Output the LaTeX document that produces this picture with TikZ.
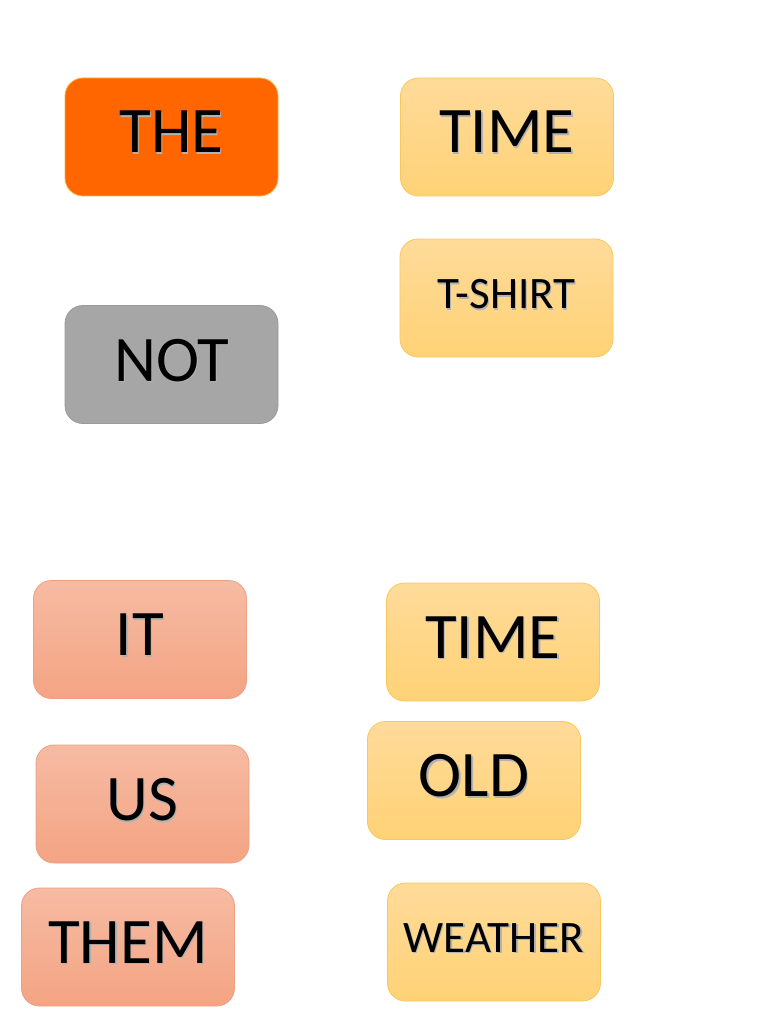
\documentclass[tikz,border=0pt]{standalone}
\usepackage{fontspec}
\setmainfont{Carlito}
\usetikzlibrary{positioning}
\definecolor{theorange}{HTML}{FF6600}
\definecolor{theborder}{HTML}{FBB040}
\definecolor{ytop}{HTML}{FFDB9A}
\definecolor{ybot}{HTML}{FFD276}
\definecolor{yborder}{HTML}{F7C85C}
\definecolor{stop}{HTML}{F6BBA3}
\definecolor{sbot}{HTML}{F4A483}
\definecolor{sborder}{HTML}{EBA083}
\definecolor{grayfill}{HTML}{A6A6A6}
\definecolor{grayborder}{HTML}{9A9A9A}
\newcommand{\shtx}[1]{\rlap{\kern1.2pt\raisebox{-1.5pt}{\textcolor{black!30}{#1}}}#1}
\tikzset{
  wordbox/.style={rounded corners=18pt, minimum width=213pt, minimum height=118pt,
    inner sep=0pt, line width=0.8pt, font=\fontsize{65}{65}\selectfont, text=black},
  smallword/.style={font=\fontsize{45}{45}\selectfont},
  orangebox/.style={wordbox, fill=theorange, draw=theborder},
  yellowbox/.style={wordbox, top color=ytop, bottom color=ybot, draw=yborder},
  salmonbox/.style={wordbox, top color=stop, bottom color=sbot, draw=sborder},
  graybox/.style={wordbox, fill=grayfill, draw=grayborder}
}
\begin{document}
\begin{tikzpicture}
\useasboundingbox[fill=white] (0pt,0pt) rectangle (768pt,-1024pt);
\node[orangebox] (the) at (171.5pt,-137pt) {\raisebox{10pt}{\shtx{THE}}};
\node[yellowbox] (time1) at (507pt,-137pt) {\raisebox{10pt}{\shtx{TIME}}};
\node[yellowbox, smallword] (tshirt) at (506.5pt,-298pt) {\raisebox{8pt}{\shtx{T-SHIRT}}};
\node[graybox] (not) at (171.5pt,-364.5pt) {\raisebox{9pt}{\shtx{NOT}}};
\node[salmonbox] (it) at (140pt,-639.5pt) {\raisebox{9pt}{\shtx{IT}}};
\node[yellowbox] (time2) at (493pt,-642pt) {\raisebox{9pt}{\shtx{TIME}}};
\node[salmonbox] (us) at (142.5pt,-804pt) {\raisebox{9pt}{\shtx{US}}};
\node[yellowbox] (old) at (474pt,-780.5pt) {\raisebox{10pt}{\shtx{OLD}}};
\node[salmonbox] (them) at (128pt,-947pt) {\raisebox{9pt}{\shtx{THEM}}};
\node[yellowbox, smallword] (weather) at (494pt,-942pt) {\raisebox{8pt}{\shtx{WEATHER}}};
\end{tikzpicture}
\end{document}
